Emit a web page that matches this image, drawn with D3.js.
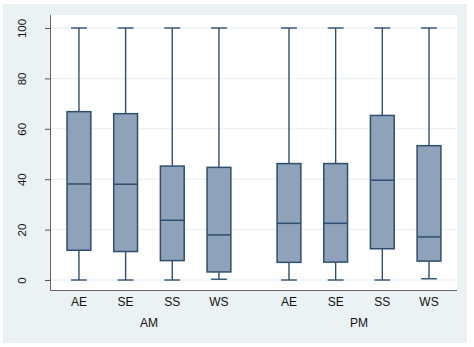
<!DOCTYPE html>
<html>
<head>
<meta charset="utf-8">
<script src="https://cdn.jsdelivr.net/npm/d3@7"></script>
<style>
  html, body { margin: 0; padding: 0; background: #ffffff; }
  svg { display: block; font-family: "Liberation Sans", Arial, sans-serif; }
</style>
</head>
<body>
<svg id="chart" width="474" height="347"></svg>
<script>
// Box plot data: time of day groups, each with four categories
const groups = ["AM", "PM"];
const categories = ["AE", "SE", "SS", "WS"];
const lowerWhisker = [0, 0, 0, 0.3, 0, 0, 0, 0.5];
const q1 = [11.8, 11.3, 7.7, 3.2, 7.0, 7.1, 12.4, 7.5];
const medians = [38.1, 38.0, 23.7, 17.9, 22.5, 22.5, 39.6, 17.1];
const q3 = [66.8, 66.0, 45.2, 44.7, 46.2, 46.2, 65.3, 53.3];
const upperWhisker = [100, 100, 100, 100, 100, 100, 100, 100];
const yTicks = [0, 20, 40, 60, 80, 100];

// Build one record per box; the second group is pushed right to leave a gap
const groupGap = 0.5;
const boxes = [];
groups.forEach((g, gi) => {
  categories.forEach((c, ci) => {
    const i = gi * categories.length + ci;
    boxes.push({
      group: g, cat: c,
      pos: gi * (categories.length + groupGap) + ci,
      lo: lowerWhisker[i], q1: q1[i], med: medians[i], q3: q3[i], hi: upperWhisker[i]
    });
  });
});

const svg = d3.select("#chart");
const W = 474, H = 347;

// Outer graph region
svg.append("rect").attr("x", 0).attr("y", 0).attr("width", W).attr("height", H).attr("fill", "#ffffff");
svg.append("rect").attr("x", 3).attr("y", 4).attr("width", 464).attr("height", 339).attr("fill", "#eaf2f3");

const plot = { left: 50, right: 457, top: 15, bottom: 290 };
svg.append("rect")
  .attr("x", plot.left).attr("y", plot.top)
  .attr("width", plot.right - plot.left).attr("height", plot.bottom - plot.top)
  .attr("fill", "#ffffff");

const x = d3.scaleLinear().domain([-0.62, 8.1]).range([plot.left, plot.right]);
const y = d3.scaleLinear().domain([0, 100]).range([280, 28]);

// Horizontal grid lines
svg.append("g").selectAll("line").data(yTicks).join("line")
  .attr("x1", plot.left).attr("x2", plot.right)
  .attr("y1", d => y(d)).attr("y2", d => y(d))
  .attr("stroke", "#e6eef0").attr("stroke-width", 1);

// Y axis with rotated labels
const yAxis = svg.append("g")
  .attr("transform", `translate(${plot.left},0)`)
  .call(d3.axisLeft(y).tickValues(yTicks).tickSize(5).tickPadding(4).tickSizeOuter(0));
yAxis.select(".domain").remove();
yAxis.selectAll(".tick line").attr("stroke", "#555").attr("stroke-width", 1);
yAxis.selectAll(".tick text")
  .attr("x", 0).attr("y", 0)
  .attr("transform", "translate(-28,0) rotate(-90)")
  .attr("text-anchor", "middle")
  .attr("dy", "0.35em")
  .attr("font-size", 11.5)
  .attr("font-family", "Liberation Sans, Arial, sans-serif")
  .attr("fill", "#111");

// Axis lines
svg.append("line").attr("x1", plot.left + 0.5).attr("x2", plot.left + 0.5)
  .attr("y1", plot.top).attr("y2", plot.bottom).attr("stroke", "#666").attr("stroke-width", 1);
svg.append("line").attr("x1", plot.left).attr("x2", plot.right)
  .attr("y1", plot.bottom + 0.5).attr("y2", plot.bottom + 0.5).attr("stroke", "#666").attr("stroke-width", 1.2);

// Boxes
const boxW = 0.51, capW = 0.34;
const unit = x(1) - x(0);
const stroke = "#2e4e70";
const fill = "#8ea3ba";
const bg = svg.append("g");
const b = bg.selectAll("g").data(boxes).join("g");

// whiskers
b.append("line").attr("x1", d => x(d.pos)).attr("x2", d => x(d.pos))
  .attr("y1", d => y(d.hi)).attr("y2", d => y(d.q3))
  .attr("stroke", stroke).attr("stroke-width", 1.4);
b.append("line").attr("x1", d => x(d.pos)).attr("x2", d => x(d.pos))
  .attr("y1", d => y(d.q1)).attr("y2", d => y(d.lo))
  .attr("stroke", stroke).attr("stroke-width", 1.4);
// caps
b.append("line").attr("x1", d => x(d.pos) - capW * unit / 2).attr("x2", d => x(d.pos) + capW * unit / 2)
  .attr("y1", d => y(d.hi)).attr("y2", d => y(d.hi))
  .attr("stroke", stroke).attr("stroke-width", 1.4);
b.append("line").attr("x1", d => x(d.pos) - capW * unit / 2).attr("x2", d => x(d.pos) + capW * unit / 2)
  .attr("y1", d => y(d.lo)).attr("y2", d => y(d.lo))
  .attr("stroke", stroke).attr("stroke-width", 1.4);
// box
b.append("rect")
  .attr("x", d => x(d.pos) - boxW * unit / 2)
  .attr("width", boxW * unit)
  .attr("y", d => y(d.q3))
  .attr("height", d => y(d.q1) - y(d.q3))
  .attr("fill", fill).attr("stroke", stroke).attr("stroke-width", 1.5);
// median
b.append("line")
  .attr("x1", d => x(d.pos) - boxW * unit / 2).attr("x2", d => x(d.pos) + boxW * unit / 2)
  .attr("y1", d => y(d.med)).attr("y2", d => y(d.med))
  .attr("stroke", stroke).attr("stroke-width", 1.5);

// Category labels
svg.append("g").selectAll("text").data(boxes).join("text")
  .attr("x", d => x(d.pos)).attr("y", 306)
  .attr("text-anchor", "middle").attr("font-size", 12).attr("fill", "#111")
  .text(d => d.cat);

// Group labels
svg.append("g").selectAll("text").data(groups).join("text")
  .attr("x", (g, gi) => x(gi * (categories.length + groupGap) + (categories.length - 1) / 2))
  .attr("y", 327)
  .attr("text-anchor", "middle").attr("font-size", 12).attr("fill", "#111")
  .text(g => g);
</script>
</body>
</html>
